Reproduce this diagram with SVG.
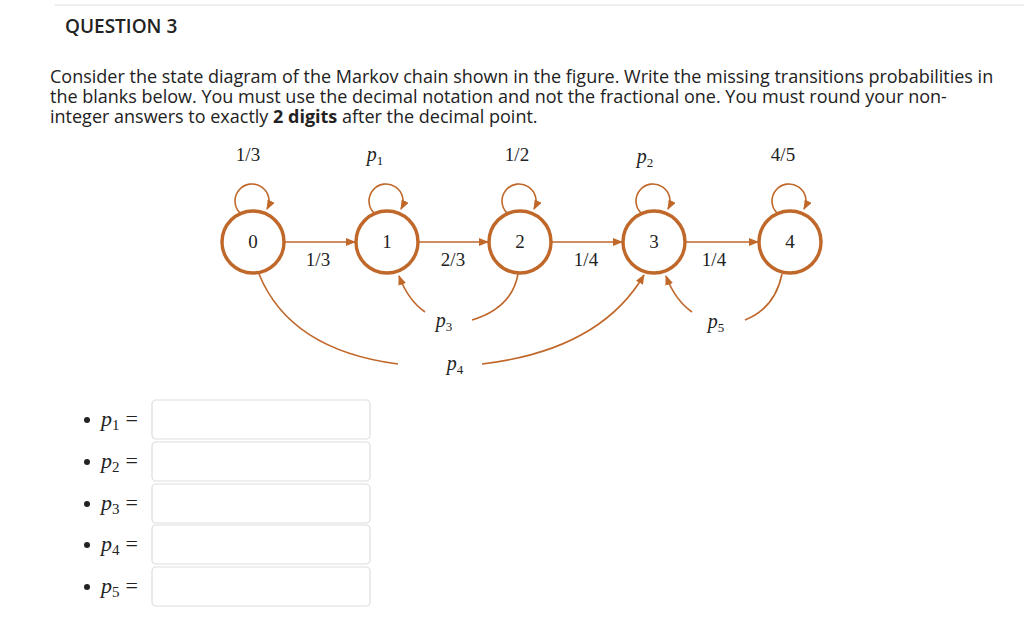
<svg xmlns="http://www.w3.org/2000/svg" width="1024" height="636" viewBox="0 0 1024 636">
<defs>
<marker id="ah" markerWidth="10" markerHeight="8" refX="9" refY="4" orient="auto" markerUnits="userSpaceOnUse"><path d="M0,0 L10,4 L0,8 Z" fill="#c0672a"/></marker>
<style>
.n{fill:#fff;stroke:#c0672a;stroke-width:3.5}
.e{fill:none;stroke:#c0672a;stroke-width:1.6}
.t{font-family:"Liberation Serif",serif;font-size:19px;fill:#222;text-anchor:middle}
.m{font-family:"Liberation Serif",serif;font-style:italic;font-size:20px;fill:#222;text-anchor:middle}
.s{font-family:"Open Sans","Noto Sans",sans-serif;font-size:18px;fill:#222}
.b{fill:#fff;stroke:#ddd;stroke-width:1.2}
</style>
</defs>
<rect width="1024" height="636" fill="#fff"/>
<line x1="55" y1="5" x2="1024" y2="5" stroke="#ddd"/>
<text x="65" y="33" class="s" style="font-size:19px;font-weight:600">QUESTION 3</text>
<text x="50" y="83" class="s">Consider the state diagram of the Markov chain shown in the figure. Write the missing transitions probabilities in</text>
<text x="50" y="103" class="s">the blanks below. You must use the decimal notation and not the fractional one. You must round your non-</text>
<text x="50" y="123" class="s">integer answers to exactly <tspan font-weight="bold">2 digits</tspan> after the decimal point.</text>
<g id="connectors">
<path class="e" d="M240,213 A17,17 0 1 1 267,209" marker-end="url(#ah)"/>
<path class="e" d="M374,213 A17,17 0 1 1 401,209" marker-end="url(#ah)"/>
<path class="e" d="M507,213 A17,17 0 1 1 534,209" marker-end="url(#ah)"/>
<path class="e" d="M641,213 A17,17 0 1 1 668,209" marker-end="url(#ah)"/>
<path class="e" d="M777,213 A17,17 0 1 1 804,209" marker-end="url(#ah)"/>
<line class="e" x1="285" y1="242" x2="355" y2="242" marker-end="url(#ah)"/>
<line class="e" x1="419" y1="242" x2="488" y2="242" marker-end="url(#ah)"/>
<line class="e" x1="552" y1="242" x2="622" y2="242" marker-end="url(#ah)"/>
<line class="e" x1="686" y1="242" x2="758" y2="242" marker-end="url(#ah)"/>
<path class="e" d="M518,274 Q512,308 472,320"/>
<path class="e" d="M425,312 Q408,300 399,276" marker-end="url(#ah)"/>
<path class="e" d="M782,274 Q775,308 745,320"/>
<path class="e" d="M692,312 Q675,300 666,276" marker-end="url(#ah)"/>
<path class="e" d="M259,274 Q290,350 398,364"/>
<path class="e" d="M482,364 Q600,350 644,275" marker-end="url(#ah)"/>
</g>
<g id="n0"><circle class="n" cx="253" cy="242" r="31"/><text class="t" x="253" y="248">0</text></g>
<g id="n1"><circle class="n" cx="387" cy="242" r="31"/><text class="t" x="387" y="248">1</text></g>
<g id="n2"><circle class="n" cx="520" cy="242" r="31"/><text class="t" x="520" y="248">2</text></g>
<g id="n3"><circle class="n" cx="654" cy="242" r="31"/><text class="t" x="654" y="248">3</text></g>
<g id="n4"><circle class="n" cx="790" cy="242" r="31"/><text class="t" x="790" y="248">4</text></g>
<text class="t" x="248" y="161">1/3</text>
<text class="m" x="375" y="161">p<tspan font-size="13" font-style="normal" dy="4">1</tspan></text>
<text class="t" x="517" y="161">1/2</text>
<text class="m" x="645" y="163">p<tspan font-size="13" font-style="normal" dy="4">2</tspan></text>
<text class="t" x="783" y="161">4/5</text>
<text class="t" x="318" y="266">1/3</text>
<text class="t" x="453" y="266">2/3</text>
<text class="t" x="586" y="266">1/4</text>
<text class="t" x="714" y="266">1/4</text>
<text class="m" x="444" y="327">p<tspan font-size="13" font-style="normal" dy="4">3</tspan></text>
<text class="m" x="455" y="370">p<tspan font-size="13" font-style="normal" dy="4">4</tspan></text>
<text class="m" x="716" y="328">p<tspan font-size="13" font-style="normal" dy="4">5</tspan></text>
<g font-family="'Liberation Serif',serif" font-size="22" fill="#222">
<circle cx="87" cy="420" r="3" fill="#222"/><text x="101" y="426" font-style="italic">p<tspan font-size="15" font-style="normal" dy="4">1</tspan><tspan dy="-4" font-style="normal" dx="6">=</tspan></text>
<circle cx="87" cy="462" r="3" fill="#222"/><text x="101" y="468" font-style="italic">p<tspan font-size="15" font-style="normal" dy="4">2</tspan><tspan dy="-4" font-style="normal" dx="6">=</tspan></text>
<circle cx="87" cy="504" r="3" fill="#222"/><text x="101" y="510" font-style="italic">p<tspan font-size="15" font-style="normal" dy="4">3</tspan><tspan dy="-4" font-style="normal" dx="6">=</tspan></text>
<circle cx="87" cy="545" r="3" fill="#222"/><text x="101" y="551" font-style="italic">p<tspan font-size="15" font-style="normal" dy="4">4</tspan><tspan dy="-4" font-style="normal" dx="6">=</tspan></text>
<circle cx="87" cy="587" r="3" fill="#222"/><text x="101" y="593" font-style="italic">p<tspan font-size="15" font-style="normal" dy="4">5</tspan><tspan dy="-4" font-style="normal" dx="6">=</tspan></text>
</g>
<rect class="b" x="152" y="400" width="218" height="39" rx="4"/>
<rect class="b" x="152" y="442" width="218" height="39" rx="4"/>
<rect class="b" x="152" y="484" width="218" height="39" rx="4"/>
<rect class="b" x="152" y="525" width="218" height="39" rx="4"/>
<rect class="b" x="152" y="567" width="218" height="39" rx="4"/>
</svg>
